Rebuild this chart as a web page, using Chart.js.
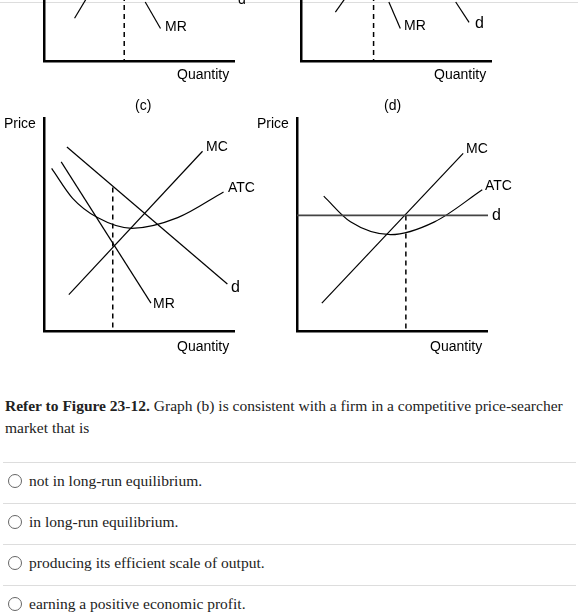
<!DOCTYPE html>
<html>
<head>
<meta charset="utf-8">
<script src="https://cdn.jsdelivr.net/npm/chart.js@4/dist/chart.umd.min.js"></script>
<style>
  body { margin: 0; width: 578px; height: 615px; background: #fff; position: relative; overflow: hidden; }
  canvas { position: absolute; }
  .lbl { position: absolute; font-family: "Liberation Sans", Arial, sans-serif; font-size: 14px; color: #000; line-height: 1; }
  .q { position: absolute; font-family: "Liberation Serif", "Times New Roman", serif; font-size: 15.5px; color: #222; }
  .opt { position: absolute; left: 8px; font-family: "Liberation Serif", serif; font-size: 15.5px; color: #222; }
  .opt span.r { display: inline-block; width: 12px; height: 12px; border: 1px solid #666; border-radius: 50%; vertical-align: -2px; margin-right: 7px; }
  .rule { position: absolute; left: 3px; width: 573px; height: 1px; background: #ddd; }
</style>
</head>
<body>
<div class="rule" style="top:2px;left:0;width:578px"></div>

<canvas id="pa" width="199" height="69" style="left:36px;top:0px"></canvas>
<canvas id="pb" width="199" height="69" style="left:293px;top:0px"></canvas>
<canvas id="pc" width="199" height="222" style="left:36px;top:117px"></canvas>
<canvas id="pd" width="199" height="222" style="left:289px;top:117px"></canvas>

<div class="lbl" style="left:165px;top:19px">MR</div>
<div class="lbl" style="left:238px;top:-8px">d</div>
<div class="lbl" style="left:177px;top:67px">Quantity</div>
<div class="lbl" style="left:404px;top:18px">MR</div>
<div class="lbl" style="left:475px;top:15px;font-size:16px">d</div>
<div class="lbl" style="left:434px;top:67px">Quantity</div>

<div class="lbl" style="left:135px;top:98px">(c)</div>
<div class="lbl" style="left:4px;top:116px">Price</div>
<div class="lbl" style="left:206px;top:139px">MC</div>
<div class="lbl" style="left:228px;top:180px">ATC</div>
<div class="lbl" style="left:231px;top:279px;font-size:16px">d</div>
<div class="lbl" style="left:153px;top:296px">MR</div>
<div class="lbl" style="left:177px;top:339px">Quantity</div>

<div class="lbl" style="left:384px;top:98px">(d)</div>
<div class="lbl" style="left:257px;top:116px">Price</div>
<div class="lbl" style="left:466px;top:141px">MC</div>
<div class="lbl" style="left:485px;top:178px">ATC</div>
<div class="lbl" style="left:492px;top:207px;font-size:16px">d</div>
<div class="lbl" style="left:430px;top:339px">Quantity</div>

<div class="q" style="left:5px;top:395px;width:572px;line-height:22px"><b>Refer to Figure 23-12.</b> Graph (b) is consistent with a firm in a competitive price-searcher market that is</div>

<div class="rule" style="top:462px"></div>
<div class="opt" style="top:472px"><span class="r"></span>not in long-run equilibrium.</div>
<div class="rule" style="top:503px"></div>
<div class="opt" style="top:513px"><span class="r"></span>in long-run equilibrium.</div>
<div class="rule" style="top:544px"></div>
<div class="opt" style="top:554px"><span class="r"></span>producing its efficient scale of output.</div>
<div class="rule" style="top:585px"></div>
<div class="opt" style="top:595px"><span class="r"></span>earning a positive economic profit.</div>

<script>
// panel (a), bottom part only
const aMC = [[1.6, 2.1], [2.3, 3.2]];
const aMR = [[5.3, 2.9], [6.1, 1.6]];
const aDash = [[4.2, 3.2], [4.2, 0]];
// panel (b), bottom part only
const bMC = [[1.8, 2.4], [2.4, 3.2]];
const bMR = [[4.6, 2.9], [5.2, 1.6]];
const bD = [[8.1, 2.9], [8.8, 1.9]];
const bDash = [[3.8, 3.2], [3.8, 0]];
// panel (c)
const cD = [[1.2, 8.6], [9.6, 2.2]];
const cMR = [[0.9, 7.9], [5.6, 1.3]];
const cMC = [[1.3, 1.7], [8.3, 8.4]];
const cATC = [[0.4, 7.6], [1.5, 6.2], [2.8, 5.3], [4.6, 4.8], [7.0, 5.3], [9.4, 6.5]];
const cDash = [[3.6, 6.7], [3.6, 0]];
// panel (d)
const dD = [[0, 5.4], [10, 5.4]];
const dMC = [[1.3, 1.3], [8.7, 8.3]];
const dATC = [[1.4, 6.3], [2.8, 5.1], [4.9, 4.5], [7.2, 5.1], [9.7, 6.6]];
const dDash = [[5.7, 5.4], [5.7, 0]];

const pts = arr => arr.map(([x, y]) => ({ x, y }));

const line = (arr, opts = {}) => Object.assign({
  data: pts(arr), showLine: true, pointRadius: 0, borderColor: '#000',
  borderWidth: 1.2, fill: false, tension: 0
}, opts);

const dash = arr => line(arr, { borderDash: [5, 4], borderWidth: 1.5 });

const makePanel = (id, ymax, datasets) => {
  new Chart(document.getElementById(id), {
    type: 'scatter',
    data: { datasets },
    options: {
      responsive: false, animation: false, devicePixelRatio: 1,
      layout: { padding: 0 },
      plugins: { legend: { display: false }, tooltip: { enabled: false } },
      scales: {
        x: { min: 0, max: 10, grid: { display: false }, ticks: { display: false },
             border: { color: '#000', width: 2.5 } },
        y: { min: 0, max: ymax, grid: { display: false }, ticks: { display: false },
             border: { color: '#000', width: 2.5 } }
      }
    }
  });
};

makePanel('pa', 3, [line(aMC), line(aMR), dash(aDash)]);
makePanel('pb', 3, [line(bMC), line(bMR), line(bD), dash(bDash)]);
makePanel('pc', 10, [line(cD), line(cMR), line(cMC),
  line(cATC, { tension: 0.4, cubicInterpolationMode: 'monotone' }), dash(cDash)]);
makePanel('pd', 10, [line(dD, { borderColor: '#444', borderWidth: 1.8 }), line(dMC),
  line(dATC, { tension: 0.4, cubicInterpolationMode: 'monotone' }), dash(dDash)]);
</script>
</body>
</html>
